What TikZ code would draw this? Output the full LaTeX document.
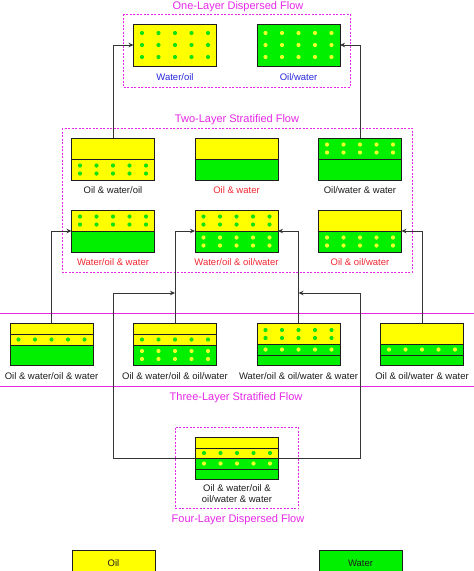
\documentclass[tikz,border=0pt]{standalone}
\usepackage{fontspec}
\setmainfont{Liberation Sans}
\usetikzlibrary{arrows.meta}
\definecolor{oilY}{RGB}{255,255,0}
\definecolor{watG}{RGB}{0,240,0}
\definecolor{dotG}{RGB}{20,225,20}
\definecolor{dotY}{RGB}{235,255,40}
\definecolor{mag}{RGB}{230,40,230}
\definecolor{lblred}{RGB}{240,40,50}
\definecolor{lblblue}{RGB}{40,40,220}
\definecolor{ink}{RGB}{30,30,30}
\tikzset{
  box/.style={draw=ink, line width=0.9pt, inner sep=0pt, outer sep=0pt, minimum width=83pt, minimum height=42pt},
  divider/.style={draw=ink, line width=0.9pt},
  conn/.style={draw=ink!90, line width=0.8pt, -{Stealth[length=5pt,width=4.5pt]}},
  group/.style={draw=mag, line width=0.9pt, dash pattern=on 2pt off 1.5pt},
  sep/.style={draw=mag, line width=0.8pt},
  lbl/.style={font=\fontsize{9.5}{11}\selectfont, text=ink, inner sep=0pt},
  ttl/.style={font=\fontsize{11}{13}\selectfont, text=mag, inner sep=0pt},
}
\newcommand{\dotrow}[3]{\foreach \k in {-2,...,2} {\fill[#3] ({#1+16.5*\k},#2) circle (2.1pt);}}
\newcommand{\lay}[5]{\fill[#5] (#1,#2) rectangle (#3,#4);}
\begin{document}
\begin{tikzpicture}[x=1pt,y=-1pt]
\useasboundingbox (0,0) rectangle (474,571);
\fill[white] (0,0) rectangle (474,571);

% ---------- separators ----------
\draw[sep] (0,313) -- (474,313);
\draw[sep] (0,386) -- (474,386);

\node[ttl] (t1) at (238,7) {One-Layer Dispersed Flow};
\node[ttl] (t2) at (237,120) {Two-Layer Stratified Flow};
\node[ttl] (t3) at (236,398) {Three-Layer Stratified Flow};
\node[ttl] (t4) at (238,520) {Four-Layer Dispersed Flow};

% ---------- connectors from four-layer ----------
\coordinate (jb) at (175,293);
\coordinate (jc) at (298.5,293);
\coordinate (cl) at (113.5,293);
\coordinate (cr) at (360,293);
\coordinate (fc) at (237,458);
\draw[conn] (fc) -| (cl) -- (jb);
\draw[conn] (fc) -| (cr) -- (jc);

% ---------- one-layer ----------
\lay{133.5}{24}{216.5}{66}{oilY}
\dotrow{175}{33}{dotG}\dotrow{175}{45}{dotG}\dotrow{175}{57}{dotG}
\node[box] (wo) at (175,45) {};
\node[lbl, text=lblblue] (wol) at (175,77) {Water/oil};

\lay{257}{24}{340}{66}{watG}
\dotrow{298.5}{33}{dotY}\dotrow{298.5}{45}{dotY}\dotrow{298.5}{57}{dotY}
\node[box] (ow) at (298.5,45) {};
\node[lbl, text=lblblue] (owl) at (298.5,77) {Oil/water};

% ---------- two-layer, row 1 ----------
\lay{71.5}{138}{154.5}{159}{oilY}
\lay{71.5}{159}{154.5}{180}{oilY}
\dotrow{113}{165.5}{dotG}\dotrow{113}{173.5}{dotG}
\draw[divider] (71.5,159) -- (154.5,159);
\node[box] (r1a) at (113,159) {};
\node[lbl] (r1al) at (113,190) {Oil \& water/oil};

\lay{195}{138}{278}{159}{oilY}
\lay{195}{159}{278}{180}{watG}
\draw[divider] (195,159) -- (278,159);
\node[box] (r1b) at (236.5,159) {};
\node[lbl, text=lblred] (r1bl) at (236.5,190) {Oil \& water};

\lay{318.5}{138}{401.5}{159}{watG}
\dotrow{360}{144.5}{dotY}\dotrow{360}{152.5}{dotY}
\lay{318.5}{159}{401.5}{180}{watG}
\draw[divider] (318.5,159) -- (401.5,159);
\node[box] (r1c) at (360,159) {};
\node[lbl] (r1cl) at (360,190) {Oil/water \& water};

% ---------- two-layer, row 2 ----------
\lay{71.5}{210}{154.5}{231}{oilY}
\dotrow{113}{216.5}{dotG}\dotrow{113}{224.5}{dotG}
\lay{71.5}{231}{154.5}{252}{watG}
\draw[divider] (71.5,231) -- (154.5,231);
\node[box] (r2a) at (113,231) {};
\node[lbl, text=lblred] (r2al) at (113,262) {Water/oil \& water};

\lay{195}{210}{278}{231}{oilY}
\dotrow{236.5}{216.5}{dotG}\dotrow{236.5}{224.5}{dotG}
\lay{195}{231}{278}{252}{watG}
\dotrow{236.5}{237.5}{dotY}\dotrow{236.5}{245.5}{dotY}
\draw[divider] (195,231) -- (278,231);
\node[box] (r2b) at (236.5,231) {};
\node[lbl, text=lblred] (r2bl) at (236.5,262) {Water/oil \& oil/water};

\lay{318.5}{210}{401.5}{231}{oilY}
\lay{318.5}{231}{401.5}{252}{watG}
\dotrow{360}{237.5}{dotY}\dotrow{360}{245.5}{dotY}
\draw[divider] (318.5,231) -- (401.5,231);
\node[box] (r2c) at (360,231) {};
\node[lbl, text=lblred] (r2cl) at (360,262) {Oil \& oil/water};

% ---------- three-layer ----------
\lay{10}{323}{93}{334}{oilY}
\lay{10}{334}{93}{345}{oilY}
\dotrow{51.5}{339.5}{dotG}
\lay{10}{345}{93}{365}{watG}
\draw[divider] (10,334) -- (93,334);
\draw[divider] (10,345) -- (93,345);
\node[box] (ta) at (51.5,344) {};
\node[lbl] (tal) at (51.5,376) {Oil \& water/oil \& water};

\lay{133.5}{323}{216.5}{334}{oilY}
\lay{133.5}{334}{216.5}{345}{oilY}
\dotrow{175}{339.5}{dotG}
\lay{133.5}{345}{216.5}{365}{watG}
\dotrow{175}{351}{dotY}\dotrow{175}{359}{dotY}
\draw[divider] (133.5,334) -- (216.5,334);
\draw[divider] (133.5,345) -- (216.5,345);
\node[box] (tb) at (175,344) {};
\node[lbl] (tbl) at (175,376) {Oil \& water/oil \& oil/water};

\lay{257}{323}{340}{344}{oilY}
\dotrow{298.5}{330}{dotG}\dotrow{298.5}{338}{dotG}
\lay{257}{344}{340}{355}{watG}
\dotrow{298.5}{349.5}{dotY}
\lay{257}{355}{340}{365}{watG}
\draw[divider] (257,344) -- (340,344);
\draw[divider] (257,355) -- (340,355);
\node[box] (tc) at (298.5,344) {};
\node[lbl] (tcl) at (298.5,376) {Water/oil \& oil/water \& water};

\lay{380.5}{323}{463.5}{344}{oilY}
\lay{380.5}{344}{463.5}{355}{watG}
\dotrow{422}{349.5}{dotY}
\lay{380.5}{355}{463.5}{365}{watG}
\draw[divider] (380.5,344) -- (463.5,344);
\draw[divider] (380.5,355) -- (463.5,355);
\node[box] (td) at (422,344) {};
\node[lbl] (tdl) at (422,376) {Oil \& oil/water \& water};

% ---------- four-layer ----------
\lay{195.5}{437}{278.5}{448}{oilY}
\lay{195.5}{448}{278.5}{458}{oilY}
\dotrow{237}{453}{dotG}
\lay{195.5}{458}{278.5}{469}{watG}
\dotrow{237}{463.5}{dotY}
\lay{195.5}{469}{278.5}{479}{watG}
\draw[divider] (195.5,448) -- (278.5,448);
\draw[divider] (195.5,458) -- (278.5,458);
\draw[divider] (195.5,469) -- (278.5,469);
\node[box] (fl) at (fc) {};
\node[lbl, align=center] (fll) at (237,493.5) {Oil \& water/oil \&\\oil/water \& water};

% ---------- legend ----------
\node[box, fill=oilY, minimum height=26pt, font=\fontsize{9.5}{11}\selectfont, text=ink] (lo) at (113.5,563) {Oil};
\node[box, fill=watG, minimum height=26pt, font=\fontsize{9.5}{11}\selectfont, text=ink] (lw) at (360.5,563) {Water};

% ---------- group frames ----------
\draw[group] (123,14) rectangle (350,87);
\draw[group] (62,128) rectangle (412,272);
\draw[group] (175.5,427.5) rectangle (298.5,508.5);

% ---------- upward connectors ----------
\draw[conn] (r1a.north) |- (wo.west);
\draw[conn] (r1c.north) |- (ow.east);
\draw[conn] (ta.north) |- (r2a.west);
\draw[conn] (tb.north) |- (r2b.west);
\draw[conn] (tc.north) |- (r2b.east);
\draw[conn] (td.north) |- (r2c.east);
\end{tikzpicture}
\end{document}
